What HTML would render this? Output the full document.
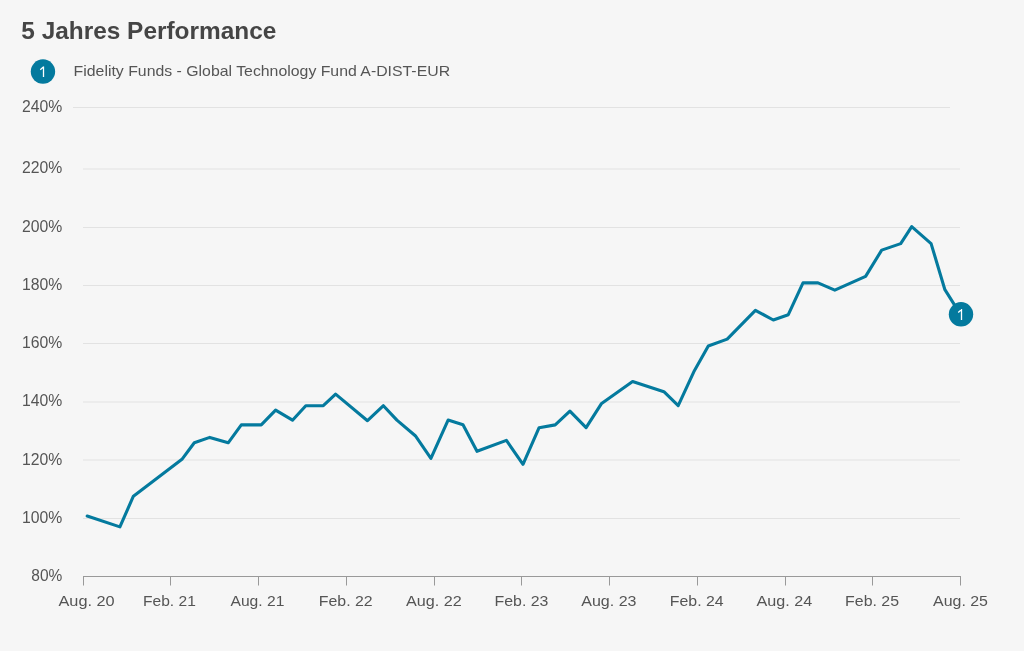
<!DOCTYPE html>
<html><head><meta charset="utf-8">
<style>
html,body{margin:0;padding:0;background:#f6f6f6;width:1024px;height:651px;overflow:hidden;}
svg{position:absolute;left:0;top:0;display:block;will-change:transform;}
text{font-family:"Liberation Sans",sans-serif;}
</style></head>
<body>
<svg width="1024" height="651" viewBox="0 0 1024 651">
<rect width="1024" height="651" fill="#f6f6f6"/>
<text x="21.3" y="39" font-size="24" font-weight="bold" fill="#454545" textLength="255.0" lengthAdjust="spacingAndGlyphs">5 Jahres Performance</text>
<circle cx="42.95" cy="71.55" r="12.2" fill="#047a9e"/>
<path d="M43.5 66.4V77.1M43.6 66.7L40.3 69.7" stroke="#fff" stroke-width="1.3" fill="none" stroke-linecap="butt"/>
<text x="73.6" y="76.2" font-size="15" fill="#555" textLength="376.5" lengthAdjust="spacingAndGlyphs">Fidelity Funds - Global Technology Fund A-DIST-EUR</text>
<g stroke="#e2e2e2" stroke-width="1" fill="none">
<path d="M73 107.5H950"/>
<path d="M83 169.0H960"/>
<path d="M83 227.5H960"/>
<path d="M83 285.5H960"/>
<path d="M83 343.5H960"/>
<path d="M83 402.0H960"/>
<path d="M83 460.0H960"/>
<path d="M83 518.5H960"/>
</g>
<g font-size="16" fill="#555">
<text x="22" y="111.8" textLength="40.3" lengthAdjust="spacingAndGlyphs">240%</text>
<text x="22" y="173.3" textLength="40.3" lengthAdjust="spacingAndGlyphs">220%</text>
<text x="22" y="231.6" textLength="40.3" lengthAdjust="spacingAndGlyphs">200%</text>
<text x="22" y="289.7" textLength="40.3" lengthAdjust="spacingAndGlyphs">180%</text>
<text x="22" y="347.8" textLength="40.3" lengthAdjust="spacingAndGlyphs">160%</text>
<text x="22" y="406.2" textLength="40.3" lengthAdjust="spacingAndGlyphs">140%</text>
<text x="22" y="464.5" textLength="40.3" lengthAdjust="spacingAndGlyphs">120%</text>
<text x="22" y="522.8" textLength="40.3" lengthAdjust="spacingAndGlyphs">100%</text>
<text x="31.3" y="580.8" textLength="31" lengthAdjust="spacingAndGlyphs">80%</text>
</g>
<g stroke="#999" stroke-width="1" fill="none">
<path d="M83 576.5H961"/>
<path d="M83.5 576V585.5M170.5 576V585.5M258.5 576V585.5M346.5 576V585.5M434.5 576V585.5M521.5 576V585.5M609.5 576V585.5M697.5 576V585.5M785.5 576V585.5M872.5 576V585.5M960.5 576V585.5"/>
</g>
<g font-size="15.6" fill="#555">
<text transform="translate(58.5 606.0) scale(1 0.95)" textLength="56.2" lengthAdjust="spacingAndGlyphs">Aug. 20</text>
<text transform="translate(143.0 606.0) scale(1 0.95)" textLength="52.8" lengthAdjust="spacingAndGlyphs">Feb. 21</text>
<text transform="translate(230.5 606.0) scale(1 0.95)" textLength="53.9" lengthAdjust="spacingAndGlyphs">Aug. 21</text>
<text transform="translate(318.8 606.0) scale(1 0.95)" textLength="53.9" lengthAdjust="spacingAndGlyphs">Feb. 22</text>
<text transform="translate(405.9 606.0) scale(1 0.95)" textLength="55.8" lengthAdjust="spacingAndGlyphs">Aug. 22</text>
<text transform="translate(494.5 606.0) scale(1 0.95)" textLength="53.9" lengthAdjust="spacingAndGlyphs">Feb. 23</text>
<text transform="translate(581.2 606.0) scale(1 0.95)" textLength="55.3" lengthAdjust="spacingAndGlyphs">Aug. 23</text>
<text transform="translate(669.8 606.0) scale(1 0.95)" textLength="53.9" lengthAdjust="spacingAndGlyphs">Feb. 24</text>
<text transform="translate(756.6 606.0) scale(1 0.95)" textLength="55.7" lengthAdjust="spacingAndGlyphs">Aug. 24</text>
<text transform="translate(845.1 606.0) scale(1 0.95)" textLength="53.9" lengthAdjust="spacingAndGlyphs">Feb. 25</text>
<text transform="translate(933.0 606.0) scale(1 0.95)" textLength="55.0" lengthAdjust="spacingAndGlyphs">Aug. 25</text>
</g>
<polyline fill="none" stroke="#047a9e" stroke-width="3.1" stroke-linejoin="round" stroke-linecap="round" points="87.2,516 119.9,526.9 133.4,496.2 182.3,458.9 194.3,442.8 209.8,437.4 228.2,442.8 241.3,424.9 261.25,424.9 275.6,410.1 292.5,420.2 305.8,405.7 323.3,405.7 335.6,394.15 367.5,420.7 383.4,405.7 396.9,420.1 415.3,435.7 430.9,458.4 448.1,420.1 463,424.8 477,451.3 506.4,440.4 523,464.3 539.1,427.7 555.2,424.9 569.9,411.1 586.1,427.7 601.6,403.4 632.6,381.6 663.9,391.7 678.2,405.6 693.8,371.8 708.3,346 727.2,339.1 755.4,310.3 773.3,320 788.3,314.7 803,282.9 818,282.9 834.8,290.1 865.6,276.4 881.7,250.1 900.7,243.6 911.7,226.6 931.1,243.6 944.9,289.7 960.6,314.6"/>
<circle cx="961" cy="314.3" r="12.2" fill="#047a9e"/>
<path d="M961.5 309.1V319.9M961.6 309.4L958.2 312.4" stroke="#fff" stroke-width="1.3" fill="none"/>
</svg>
</body></html>
